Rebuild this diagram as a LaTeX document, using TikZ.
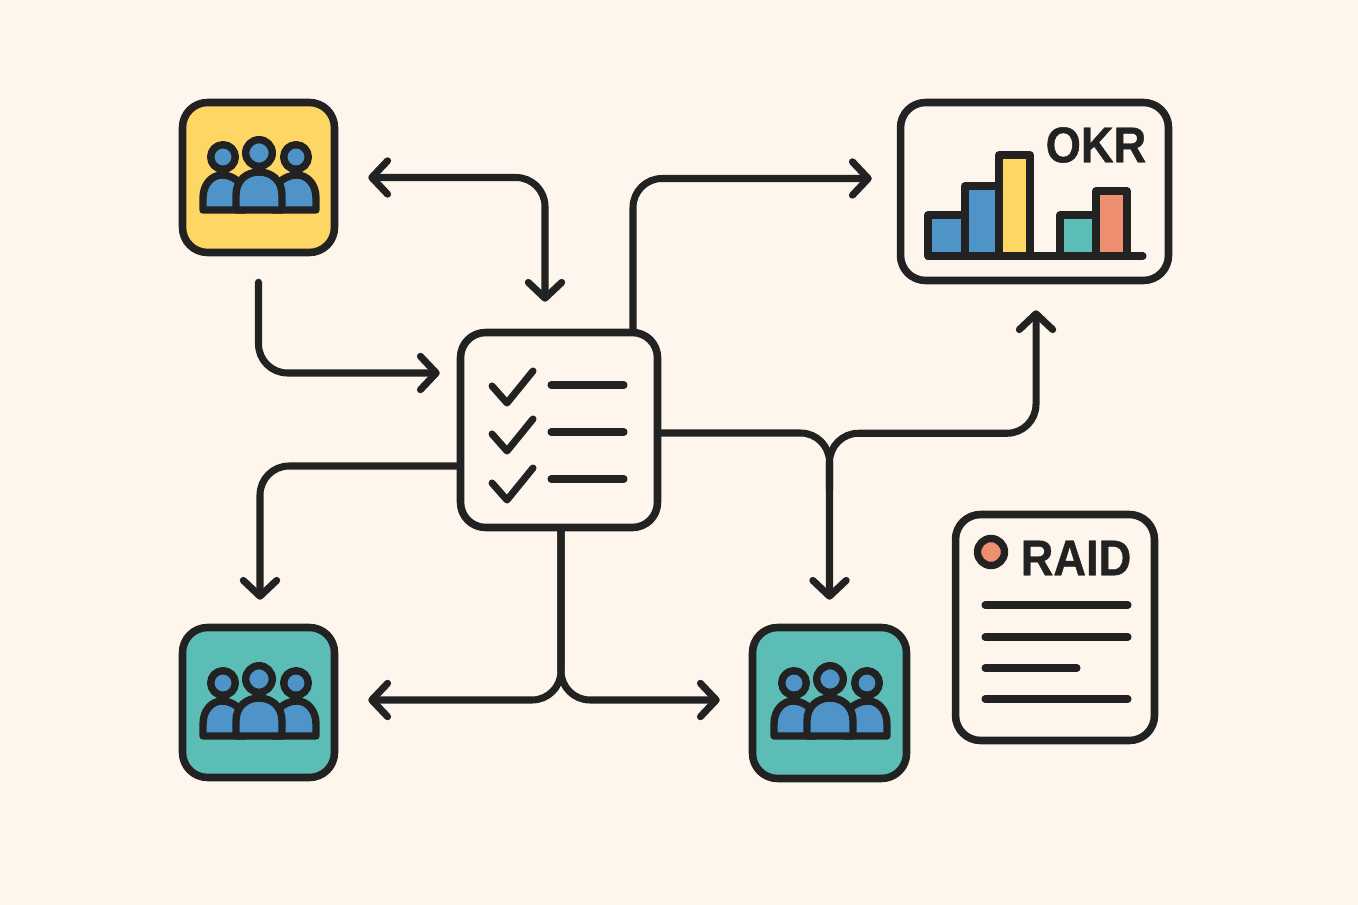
\documentclass[tikz,border=0pt]{standalone}
\usepackage{fontspec}
\newfontfamily\labelfont{Liberation Sans}[FakeStretch=0.9,BoldFeatures={FakeBold=0.8}]
\usetikzlibrary{arrows.meta,calc}
\definecolor{paper}{HTML}{FEF6EC}
\definecolor{ink}{HTML}{222222}
\definecolor{sun}{HTML}{FDD663}
\definecolor{sea}{HTML}{5CBDB7}
\definecolor{sky}{HTML}{4F94C9}
\definecolor{coral}{HTML}{EE8F72}
\tikzset{
    box/.style={draw=ink,line width=4.3pt,rounded corners=0.5cm,inner sep=0pt,fill=paper},
    link/.style={draw=ink,line width=4pt,line cap=round,rounded corners=0.58cm},
    tip/.style={-{Straight Barb[round,length=9pt,width=19pt]}},
    bothtips/.style={{Straight Barb[round,length=9pt,width=19pt]}-{Straight Barb[round,length=9pt,width=19pt]}},
    rule/.style={draw=ink,line width=4pt,line cap=round,line join=round},
    bar/.style={draw=ink,line width=4.2pt,line join=round},
    label/.style={font=\labelfont\fontsize{28.6}{29}\selectfont\bfseries,text=ink,inner sep=0pt},
    people/.pic={
        \draw[bar,fill=sky] (-36,-53) circle[radius=12.3];
        \draw[bar,fill=sky] (37,-53) circle[radius=12.3];
        \draw[bar,fill=sky] (-56,0) -- (-56,-12) .. controls (-56,-26) and (-47,-35) .. (-37,-35) .. controls (-27,-35) and (-18,-28) .. (-14,-20) -- (-14,0) -- cycle;
        \draw[bar,fill=sky] (57,0) -- (57,-12) .. controls (57,-26) and (48,-35) .. (38,-35) .. controls (28,-35) and (18,-28) .. (14,-20) -- (14,0) -- cycle;
        \draw[bar,fill=sky] (-23,0) -- (-23,-15) .. controls (-23,-30) and (-12,-38) .. (0,-38) .. controls (12,-38) and (23,-30) .. (23,-15) -- (23,0) -- cycle;
        \draw[bar,fill=sky] (0,-57) circle[radius=13.3];
    }
}
\begin{document}
\begin{tikzpicture}[x=0.02cm,y=-0.02cm]

    \fill[paper] (0,0) rectangle (1358,905);
    \useasboundingbox (0,0) rectangle (1358,905);

    \node[box,fill=sun,minimum width=3.04cm,minimum height=3cm] (teamA) at (258.5,177.5) {};
    \node[box,fill=sea,minimum width=3.04cm,minimum height=3cm] (teamB) at (258.5,702.5) {};
    \node[box,fill=sea,minimum width=3.08cm,minimum height=3.02cm] (teamC) at (829.5,703) {};
    \node[box,minimum width=5.36cm,minimum height=3.56cm] (okr) at (1034.5,191.5) {};
    \node[box,minimum width=3.94cm,minimum height=3.9cm] (tasks) at (559,430) {};
    \node[box,minimum width=3.98cm,minimum height=4.52cm] (raid) at (1055,627.5) {};

    \coordinate (forkokr) at ($(teamC.north)+(0,-134)$);

    \draw[link,bothtips,shorten <=0.6cm,shorten >=0.54cm] (teamA.east) -| ($(tasks.north)+(-14,0)$);
    \draw[link,tip,shorten <=0.52cm,shorten >=0.34cm] (teamA.south) |- ($(tasks.west)+(0,-57)$);
    \draw[link,tip,shorten >=0.5cm] ($(tasks.north)+(74,0)$) |- ($(okr.west)+(0,-13)$);
    \draw[link,tip,shorten >=0.48cm] ($(tasks.east)+(0,3)$) -| (teamC.north);
    \draw[link,tip,shorten >=0.52cm] (forkokr) |- ($(okr.south)+(1.5,149)$) -- ($(okr.south)+(1.5,0)$);
    \draw[link,tip,shorten >=0.48cm] ($(tasks.west)+(0,36)$) -| ($(teamB.north)+(1.5,0)$);
    \draw[link,tip,shorten >=0.6cm] ($(tasks.south)+(2,0)$) |- ($(teamB.east)+(0,-2.5)$);
    \draw[link,tip,shorten >=0.58cm] ($(tasks.south)+(2,0)$) |- ($(teamC.west)+(0,-3)$);

    \pic at (259,210) {people};
    \pic at (259,736) {people};
    \pic at (830,736) {people};

    % checklist
    \draw[rule] (492,386) -- (507,403) -- (533,371);
    \draw[rule] (492,434) -- (507,451) -- (533,419);
    \draw[rule] (492,483) -- (507,500) -- (533,468);
    \draw[rule] (551,385) -- (624,385);
    \draw[rule] (551,432) -- (624,432);
    \draw[rule] (551,479) -- (624,479);

    % chart
    \draw[bar,fill=sky] (928,256) rectangle (965,215);
    \draw[bar,fill=sky] (965,256) rectangle (999,186);
    \draw[bar,fill=sun] (999,256) rectangle (1030,155);
    \draw[bar,fill=sea] (1060,256) rectangle (1096,215);
    \draw[bar,fill=coral] (1096,256) rectangle (1127,191);
    \draw[rule] (928,256) -- (1143,256);
    \node[label] (okrtext) at (1096,145) {OKR};

    % raid sheet
    \draw[bar,fill=coral] (991,552) circle[radius=13.5];
    \node[label] (raidtext) at (1076,558) {RAID};
    \draw[rule] (985,605) -- (1128,605);
    \draw[rule] (985,637) -- (1128,637);
    \draw[rule] (985,668) -- (1077,668);
    \draw[rule] (985,699) -- (1128,699);

\end{tikzpicture}
\end{document}
